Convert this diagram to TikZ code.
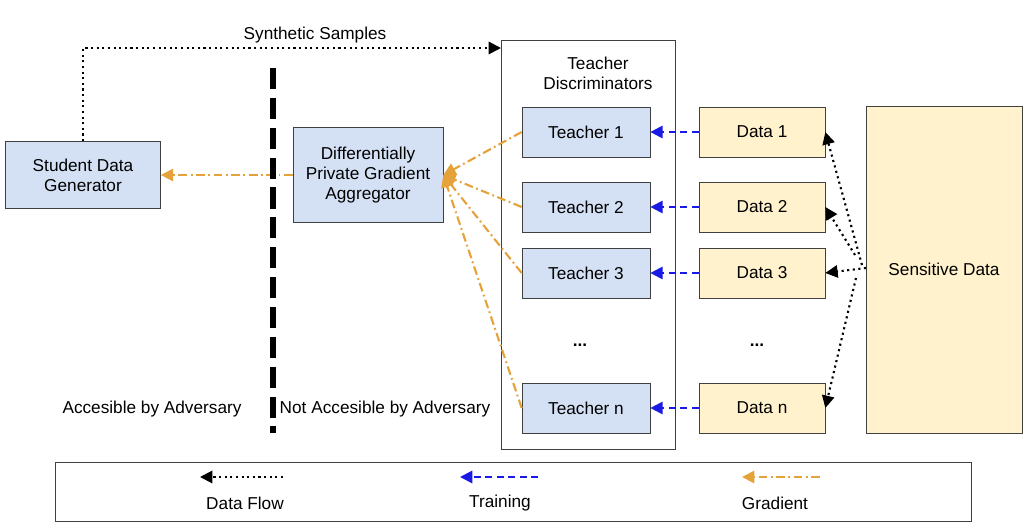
\documentclass[tikz,border=0pt]{standalone}
\usepackage{fontspec}
\setmainfont{Liberation Sans}
\usetikzlibrary{arrows.meta}
\definecolor{bfill}{HTML}{D4E1F5}
\definecolor{yfill}{HTML}{FFF2CC}
\definecolor{ogr}{HTML}{E5A23A}
\definecolor{bdash}{HTML}{1A1AE6}
\begin{document}
\begin{tikzpicture}[x=0.02cm,y=-0.02cm,
  every node/.style={font=\fontsize{9.8}{11.3}\selectfont},
  bbox/.style={draw=black!75,fill=bfill,minimum width=2.56cm,minimum height=1cm,align=center},
  ybox/.style={draw=black!75,fill=yfill,minimum width=2.52cm,minimum height=1cm,align=center},
  grad/.style={draw=ogr,line width=1.2pt,dash pattern=on 5pt off 2pt on 1pt off 2pt,-{Triangle[length=7pt,width=7pt]}},
  train/.style={draw=bdash,line width=1.2pt,dash pattern=on 4pt off 2.5pt,-{Triangle[length=7pt,width=7pt]}},
  flow/.style={draw=black,line width=1.2pt,dotted,-{Triangle[length=7pt,width=7pt]}}]
\useasboundingbox (0,0) rectangle (1036,530);
\node[bbox,minimum width=3.1cm,minimum height=1.34cm] (stu) at (83,175) {Student Data\\Generator};
\node[bbox,minimum width=3cm,minimum height=1.9cm] (agg) at (368,175) {Differentially\\Private Gradient\\Aggregator};
\node[draw=black!75,fill=white,minimum width=3.48cm,minimum height=8.18cm] (td) at (588,244.5) {};
\node[align=center] (tdl) at (598,73) {Teacher\\Discriminators};
\foreach \i/\y/\t in {1/132/1,2/207/2,3/273/3,n/408/n}{
  \node[bbox] (t\i) at (586,\y) {Teacher \t};
  \node[ybox] (d\i) at (762,\y) {Data \t};
  \draw[train] (d\i.west) -- (t\i.east);
  \draw[grad] (t\i.west) -- (agg.east);
}
\node (tdots) at (580,345) {\textbf{...}};
\node (ddots) at (757,345) {\textbf{...}};
\node[ybox,minimum width=3.12cm,minimum height=6.54cm] (sens) at (944,269.5) {Sensitive Data};
\coordinate (s1) at (862,265);
\coordinate (s2) at (855,255);
\coordinate (s3) at (866,268);
\coordinate (s4) at (856,278);
\draw[flow] (s1) -- (d1.east);
\draw[flow] (s2) -- (d2.east);
\draw[flow] (s3) -- (d3.east);
\draw[flow] (s4) -- (dn.east);
\draw[grad] (agg.west) -- (stu.east);
\coordinate (c1) at (83,48);
\coordinate (c2) at (501,48);
\draw[flow] (stu.north) -- (c1) -- (c2);
\node (ss) at (315,35) {Synthetic Samples};
\coordinate (v1) at (273,68);
\coordinate (v2) at (273,433);
\draw[line width=3pt,dash pattern=on 12pt off 5pt] (v1) -- (v2);
\node (acc) at (152,409) {Accesible by Adversary};
\node (nacc) at (385,409) {Not Accesible by Adversary};
\node[draw=black!75,minimum width=18.32cm,minimum height=1.18cm] (leg) at (513,491.5) {};
\coordinate (la1) at (283,477); \coordinate (la2) at (200,477);
\coordinate (lb1) at (538,477); \coordinate (lb2) at (460,477);
\coordinate (lc1) at (820,477); \coordinate (lc2) at (742,477);
\draw[flow] (la1) -- (la2);
\draw[train] (lb1) -- (lb2);
\draw[grad] (lc1) -- (lc2);
\node (l1) at (245,503) {Data Flow};
\node (l2) at (500,503) {Training};
\node (l3) at (775,503) {Gradient};
\end{tikzpicture}
\end{document}
